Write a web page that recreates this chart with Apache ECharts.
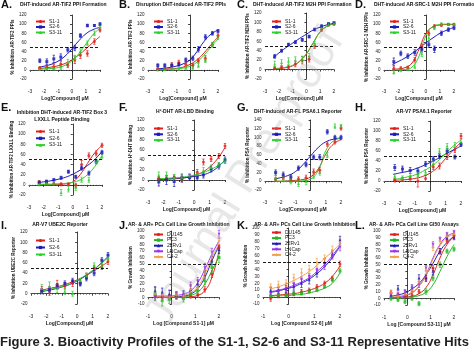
<!DOCTYPE html>
<html>
<head>
<meta charset="utf-8">
<script src="https://cdn.jsdelivr.net/npm/echarts@6/dist/echarts.min.js"></script>
<style>
html,body{margin:0;padding:0;background:#fff;}
#chart{width:474px;height:352px;}
</style>
</head>
<body>
<div id="chart"></div>
<script>
// x positions (log uM)
var doseX = [-2.3,-1.8,-1.3,-0.8,-0.3,0.2,0.6,1.1,1.6,2.0];
var fitX = [-2.4,-2,-1.5,-1,-0.5,0,0.5,1,1.5,2];
var growthX = [-0.7,-0.4,-0.1,0.2,0.5,0.8,1.1,1.4,1.7,2.0];

var compounds = ['S1-1','S2-6','S3-11'];
var cellLines = ['DU145','PC3','22Rv1','LNCap','C4-2'];

var letters = ['A.','B.','C.','D.','E.','F.','G.','H.','I.','J.','K.','L.'];
var titles = [
  'DHT-induced AR-TIF2 PPI Formation',
  'Disruption DHT-induced AR-TIF2 PPIs',
  'DHT-induced AR-TIF2 M2H PPI Formation',
  'DHT-induced AR-SRC-1 M2H PPI Formation',
  'Inhibition DHT-induced AR-TIF2 Box 3\nLXXLL Peptide Binding',
  'H\u00b3-DHT AR-LBD Binding',
  'DHT-induced AR-FL PSA6.1 Reporter',
  'AR-V7 PSA6.1 Reporter',
  'AR-V7 UBE2C Reporter',
  'AR- & AR+ PCs Cell Line Growth Inhibition',
  'AR- & AR+ PCs Cell Line Growth Inhibition',
  'AR- & AR+ PCa Cell Line GI50 Assays'
];
var yNames = [
  '% Inhibition AR-TIF2 PPIs',
  '% Inhibition AR-TIF2 PPIs',
  '% Inhibition AR-TIF2 M2H PPIs',
  '% Inhibition AR-SRC-1 M2H PPIs',
  '% Inhibition AR-TIF2 LXXLL Binding',
  '% Inhibition H\u00b3-DHT Binding',
  '% Inhibition PSA Reporter',
  '% Inhibition PSA Reporter',
  '% Inhibition UBE2C Reporter',
  '% Growth Inhibition',
  '% Growth Inhibition',
  '% Growth Inhibition'
];
var xNames = [
  'Log[Compound] \u03bcM','Log[Compound] \u03bcM','Log[Compound] \u03bcM','Log[Compound] \u03bcM',
  'Log[Compound] \u03bcM','Log[Compound] \u03bcM','Log[Compound] \u03bcM','Log[Compound] \u03bcM',
  'Log[Compound] \u03bcM','Log [Compound S1-1] \u03bcM','Log [Compound S2-6] \u03bcM','Log [Compound S3-11] \u03bcM'
];
var yMin = [-20,-20,-20,-20,-20,-20,-20,-20,-20,-10,-10,-10];
var yMax = [120,120,120,120,120,120,140,120,120,100,100,100];

// A
var ptsA = [[4,6,7,13,10,22,32,36,62,87],[20,18,24,28,44,48,75,97,97,100],[2,3,4,6,17,25,40,58,80,95]];
var errA = [[3,4,5,6,5,8,7,6,6,4],[4,6,8,7,5,6,4,3,2,3],[3,3,4,5,6,7,6,5,5,4]];
var fitA = [[3,4,6,9,14,22,33,46,60,73],[5,8,12,19,30,46,64,79,88,93],[1,2,3,5,10,20,36,57,77,91]];
// B
var ptsB = [[2,3,10,16,12,10,20,25,55,75],[10,10,10,12,22,25,45,72,80,85],[0,1,2,2,5,5,10,22,55,70]];
var errB = [[3,3,6,5,5,4,5,6,5,4],[3,3,3,4,4,5,6,5,4,3],[2,2,2,3,4,5,5,6,5,4]];
var fitB = [[1,1,2,3,6,12,22,37,55,72],[2,3,5,8,13,22,40,62,78,87],[0,0,1,2,4,8,17,32,50,68]];
// C
var ptsC = [[3,5,5,12,20,22,50,85,95,97],[28,40,53,58,63,70,85,92,97,99],[12,15,18,20,22,28,55,88,96,98]];
var errC = [[3,3,4,6,8,6,5,4,3,3],[4,3,3,3,3,3,3,3,2,2],[6,6,7,7,6,6,5,4,3,3]];
var fitC = [[1,2,4,8,17,33,57,80,92,97],[25,35,46,56,66,75,84,90,95,98],[2,3,5,9,18,34,57,80,92,97]];
// D
var ptsD = [[3,3,5,22,50,80,95,98,99,99],[18,36,30,38,45,55,45,80,88,92],[-5,0,2,8,35,70,92,100,100,100]];
var errD = [[5,4,3,5,6,5,4,3,2,2],[8,5,5,6,6,6,7,5,4,4],[4,4,4,5,6,6,4,3,2,2]];
var fitD = [[1,2,5,15,45,80,94,98,99,99],[12,18,26,36,47,59,70,80,87,93],[0,0,1,6,30,75,95,99,100,100]];
// E
var ptsE = [[6,3,2,1,1,-1,40,58,62,78],[5,7,10,14,26,16,33,23,46,64],[1,3,3,-15,-8,-5,10,10,46,56]];
var errE = [[2,2,2,3,3,4,8,5,5,4],[2,2,2,3,3,3,4,4,4,4],[3,3,3,6,6,6,5,5,5,5]];
var fitE = [[1,1,1,1,2,6,20,42,63,78],[4,6,8,11,15,21,29,38,50,66],[1,1,1,2,3,5,10,20,36,58]];
// F
var ptsF = [[3,4,5,2,5,15,36,42,48,68],[-4,0,-3,4,5,5,10,22,28,40],[10,10,5,5,8,12,20,25,30,38]];
var errF = [[4,4,5,6,5,6,6,5,5,5],[8,9,10,8,6,5,6,6,6,6],[6,6,6,5,5,5,5,5,5,5]];
var fitF = [[1,1,2,3,5,9,15,26,42,65],[2,2,3,4,5,7,10,15,25,40],[3,3,4,5,7,10,14,20,28,38]];
// G
var ptsG = [[5,8,3,5,8,22,25,85,90,122],[20,15,10,30,38,55,55,113,100,100],[8,5,0,-5,0,12,20,60,126,125]];
var errG = [[4,4,4,5,6,6,6,5,5,5],[6,6,5,5,5,5,6,5,5,5],[6,6,6,7,8,6,6,6,5,5]];
var fitG = [[0,0,1,2,4,10,28,62,85,95],[5,8,13,22,38,58,77,90,96,99],[0,0,0,0,1,5,25,70,92,98]];
// H
var ptsH = [[2,3,5,0,5,28,30,48,62,90],[27,24,21,20,34,44,50,60,48,73],[10,5,10,15,18,35,60,70,72,78]];
var errH = [[4,4,5,12,6,5,6,5,5,5],[6,6,6,6,5,5,5,5,4,4],[5,5,5,6,5,5,5,5,5,5]];
var fitH = [[1,2,3,5,9,16,28,45,62,78],[13,16,19,24,30,37,45,54,62,70],[3,5,8,12,19,28,40,55,70,82]];
// I
var ptsI = [[8,5,18,15,20,22,35,50,52,62],[5,8,15,20,25,20,30,40,65,75],[10,15,10,5,0,25,35,55,55,70]];
var errI = [[6,8,8,6,6,6,5,5,5,5],[5,5,5,5,5,5,5,5,5,5],[8,8,8,6,5,5,5,5,5,5]];
var fitI = [[6,9,12,16,21,27,34,43,52,62],[3,6,9,13,18,25,34,45,58,72],[4,7,10,14,19,26,35,45,57,70]];
// J  (DU145, PC3, 22Rv1, LNCap, C4-2)
var ptsJ = [[2,1,0,1,0,2,3,12,35,75],[5,-5,-3,2,-2,5,10,25,45,60],[10,8,5,3,5,12,20,35,55,72],[0,2,0,5,5,18,25,45,68,95],[5,3,0,3,2,12,15,35,60,85]];
var errJ = [[3,3,3,3,3,3,3,4,5,5],[10,8,6,5,5,5,6,6,8,8],[6,6,6,5,5,5,5,6,6,6],[4,4,4,4,4,5,5,6,6,6],[4,4,4,4,4,5,5,6,6,6]];
var fitJ = [[0,0,0,0,0,1,3,10,30,70],[0,0,0,0,1,3,8,20,40,62],[1,1,1,1,2,5,13,30,55,78],[2,2,2,3,5,10,22,42,65,85],[1,1,1,2,3,7,16,35,60,80]];
// K
var ptsK = [[-2,2,4,5,8,10,15,20,27,48],[2,3,3,5,5,8,10,15,25,38],[10,10,12,15,20,25,35,50,62,83],[5,8,12,18,25,30,38,45,60,72],[15,18,20,28,35,40,50,55,68,78]];
var errK = [[4,3,3,3,3,3,3,3,3,4],[2,2,2,2,2,2,2,2,3,3],[4,4,5,5,6,6,6,6,5,5],[3,3,3,3,4,4,4,5,5,5],[4,5,5,5,6,6,6,6,6,6]];
var fitK = [[2,3,4,5,7,10,14,20,30,45],[1,2,2,3,4,6,9,13,20,35],[7,9,12,15,20,26,34,44,57,74],[8,10,13,17,22,28,37,47,60,75],[12,15,19,24,30,37,46,56,66,77]];
// L
var ptsL = [[8,5,3,5,10,30,45,70,85,93],[0,-2,-5,0,-8,10,30,50,70,73],[5,15,5,15,30,30,40,70,90,90],[5,5,10,15,20,45,80,88,95,98],[8,3,5,12,25,40,75,85,92,95]];
var errL = [[4,3,3,3,3,4,4,4,3,3],[3,3,3,3,3,4,4,4,3,3],[4,4,4,5,5,5,5,4,3,3],[3,3,3,3,4,4,4,3,3,3],[3,3,3,3,4,4,4,3,3,3]];
var fitL = [[1,1,2,3,7,16,35,60,80,92],[0,0,1,2,4,9,20,40,62,80],[3,5,8,14,22,35,52,70,83,92],[1,2,4,8,18,35,60,80,92,97],[2,3,5,9,18,34,58,78,90,95]];

var allPts = [ptsA,ptsB,ptsC,ptsD,ptsE,ptsF,ptsG,ptsH,ptsI,ptsJ,ptsK,ptsL];
var allErr = [errA,errB,errC,errD,errE,errF,errG,errH,errI,errJ,errK,errL];
var allFit = [fitA,fitB,fitC,fitD,fitE,fitF,fitG,fitH,fitI,fitJ,fitK,fitL];

// layout
var colX = [0,118,236,354];
var gridLeft = [30,30,29,30,29,30,29,30,31,30,27,30];
var gridWidth = [70,70,69,70,73,77,76,77,77,71,77,70];
var gridTop = [15,15,13,15,124,120,120,121,232,231,228,231];
var gridHeight = [64,64,66,64,71,70,70,70,72,73,76,74];
var legTop = [19,19,19,19,129,126,126,126,238,232,230,232];
var legGap = [0.5,0.5,0.5,0.5,1.8,0.8,0.8,0.8,2,0.6,0.6,0.6];
var titleX = [20,18,17,20,62,67,62,70,60,10,18,15];
var titleY = [5,5,5,5,116,112,112,112,225,225,225,225];
var letterY = [-1,-1,-1,-1,102,102,102,102,220,220,220,220];

var compColors = ['#e0201c','#1c1cb8','#2ed02e'];
var cellColors = ['#e0201c','#22b822','#1c1cb8','#9a32f0','#f5a04a'];
var compSymbols = ['circle','rect','triangle'];
var cellSymbols = ['circle','rect','triangle','path://M0,0L10,0L5,10Z','diamond'];

var FONT = 'Liberation Sans';

function errBar(params, api) {
  var x = api.value(0), y = api.value(1), e = api.value(2);
  var a = api.coord([x, y + e]), b = api.coord([x, y - e]);
  var st = {stroke: api.visual('color'), lineWidth: 0.7};
  return {type: 'group', children: [
    {type: 'line', shape: {x1: a[0], y1: a[1], x2: b[0], y2: b[1]}, style: st},
    {type: 'line', shape: {x1: a[0] - 1.2, y1: a[1], x2: a[0] + 1.2, y2: a[1]}, style: st},
    {type: 'line', shape: {x1: b[0] - 1.2, y1: b[1], x2: b[0] + 1.2, y2: b[1]}, style: st}
  ]};
}

var grids = [], xAxes = [], yAxes = [], legends = [], series = [], graphics = [];

for (var p = 0; p < 12; p++) {
  var col = p % 4, x0 = colX[col];
  var growth = p >= 9;
  var names = growth ? cellLines : compounds;
  var colors = growth ? cellColors : compColors;
  var syms = growth ? cellSymbols : compSymbols;
  var px = growth ? growthX : doseX;
  var fx = growth ? growthX : fitX;

  grids.push({left: x0 + gridLeft[p], top: gridTop[p], width: gridWidth[p], height: gridHeight[p]});

  xAxes.push({
    gridIndex: p, type: 'value', min: growth ? -1 : -3, max: 2, interval: 1, offset: 8,
    axisLine: {show: true, lineStyle: {color: '#111', width: 0.8}},
    axisTick: {show: true, length: 2, lineStyle: {color: '#111', width: 0.8}},
    minorTick: {show: true, splitNumber: 5, length: 1, lineStyle: {color: '#111', width: 0.6}},
    axisLabel: {fontSize: 5, margin: 2, color: '#222', fontFamily: FONT},
    splitLine: {show: false},
    name: xNames[p], nameLocation: 'middle', nameGap: 9,
    nameTextStyle: {fontSize: 5, fontWeight: 'bold', color: '#222', fontFamily: FONT}
  });
  yAxes.push({
    gridIndex: p, type: 'value', min: yMin[p], max: yMax[p], interval: growth ? 10 : 20, offset: 2,
    axisLine: {show: true, lineStyle: {color: '#111', width: 0.8}},
    axisTick: {show: true, length: 2, lineStyle: {color: '#111', width: 0.8}},
    axisLabel: {fontSize: 4.5, margin: 1.5, color: '#222', fontFamily: FONT},
    splitLine: {show: false},
    name: yNames[p], nameLocation: 'middle', nameGap: 11,
    nameTextStyle: {fontSize: 4.5, fontWeight: 'bold', color: '#222', fontFamily: FONT}
  });

  legends.push({
    data: names.slice(), orient: 'vertical', left: x0 + 35, top: legTop[p], padding: 0,
    itemWidth: 9, itemHeight: 4, itemGap: legGap[p], selectedMode: false,
    textStyle: {fontSize: 5, lineHeight: 5, color: '#222', fontFamily: FONT, padding: [0, 0, 0, -1]}
  });

  var pts = allPts[p], errs = allErr[p], fits = allFit[p];
  for (var s = 0; s < names.length; s++) {
    var fitData = fx.map(function (x, i) { return [x, fits[s][i]]; });
    var line = {
      type: 'line', name: names[s], xAxisIndex: p, yAxisIndex: p, data: fitData,
      smooth: 0.5, showSymbol: false, symbol: syms[s], symbolSize: 3,
      lineStyle: {color: colors[s], width: 1}, itemStyle: {color: colors[s]},
      silent: true, animation: false, z: 3
    };
    if (s === 0) {
      line.markLine = {
        silent: true, symbol: ['none', 'none'], label: {show: false}, animation: false,
        data: [
          {yAxis: 50, lineStyle: {color: '#000', width: 0.9, type: [3, 2]}},
          {yAxis: 0, lineStyle: {color: '#666', width: 0.8, type: [1, 1.5]}}
        ]
      };
    }
    series.push(line);
    series.push({
      type: 'scatter', xAxisIndex: p, yAxisIndex: p,
      data: px.map(function (x, i) { return [x, pts[s][i]]; }),
      symbol: syms[s], symbolSize: 3, itemStyle: {color: colors[s]},
      silent: true, animation: false, z: 4
    });
    series.push({
      type: 'custom', xAxisIndex: p, yAxisIndex: p, renderItem: errBar,
      data: px.map(function (x, i) { return [x, pts[s][i], errs[s][i]]; }),
      encode: {x: 0, y: 1}, itemStyle: {color: colors[s]},
      silent: true, animation: false, z: 4
    });
  }

  graphics.push({
    type: 'text', x: x0 + 1, y: letterY[p],
    style: {text: letters[p], fontSize: 11, fontWeight: 'bold', fontFamily: FONT, fill: '#111',
      align: 'left', textAlign: 'left', verticalAlign: 'top', textVerticalAlign: 'top'}
  });
  var ta = (p >= 4 && p <= 8) ? 'center' : 'left';
  graphics.push({
    type: 'text', x: x0 + titleX[p], y: titleY[p],
    style: {text: titles[p], fontSize: 5, lineHeight: 7, fontWeight: 'bold', fontFamily: FONT, fill: '#111',
      align: ta, textAlign: ta, verticalAlign: 'middle', textVerticalAlign: 'middle'}
  });
}

graphics.push({
  type: 'text', x: 0, y: 336,
  style: {text: 'Figure 3. Bioactivity Profiles of the S1-1, S2-6 and S3-11 Representative Hits',
    fontSize: 13, fontWeight: 'bold', fontFamily: FONT, fill: '#222',
    align: 'left', textAlign: 'left', verticalAlign: 'top', textVerticalAlign: 'top'}
});
graphics.push({
  type: 'text', x: 245, y: 178, rotation: 1.02, z: 100, silent: true,
  style: {text: 'Journal Pre-proof', fontSize: 44, fontFamily: FONT, fill: 'rgba(170,170,170,0.28)',
    align: 'center', textAlign: 'center', verticalAlign: 'middle', textVerticalAlign: 'middle'}
});

var chart = echarts.init(document.getElementById('chart'), null, {renderer: 'canvas'});
chart.setOption({
  backgroundColor: '#fff',
  animation: false,
  grid: grids,
  xAxis: xAxes,
  yAxis: yAxes,
  legend: legends,
  series: series,
  graphic: graphics
});
</script>
</body>
</html>
